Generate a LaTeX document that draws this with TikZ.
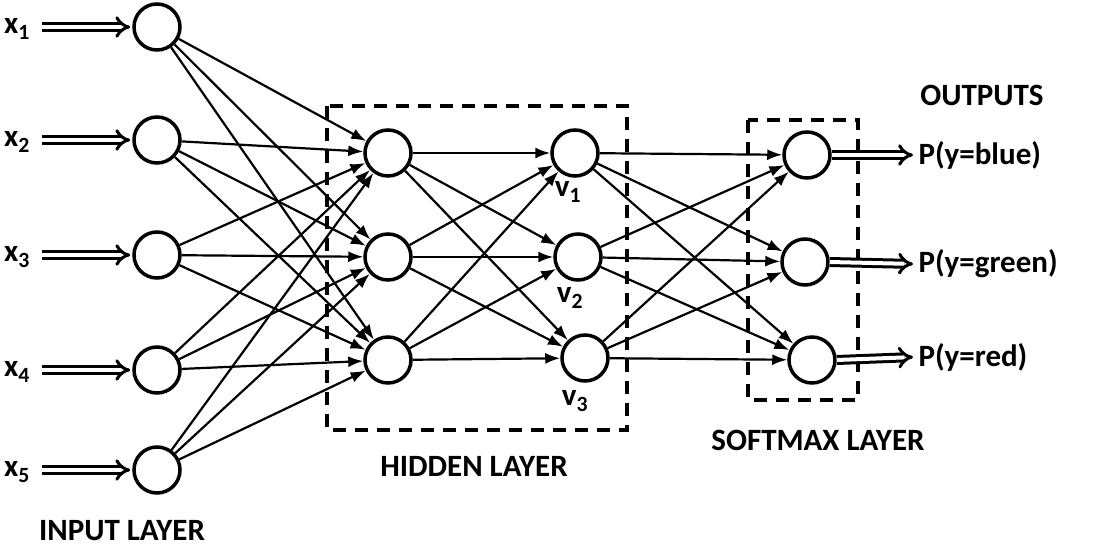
\documentclass[tikz,border=0pt]{standalone}
\usepackage{fontspec}
\setmainfont{Carlito}
\usetikzlibrary{arrows.meta}
\begin{document}
\begin{tikzpicture}[x=1pt,y=-1pt,
  neuron/.style={circle,draw,line width=3.5pt,minimum size=46pt,inner sep=0pt},
  conn/.style={line width=2.2pt,-{Latex[length=15pt,width=11pt]}},
  dbl/.style={double,double distance=4pt,line width=3pt,-{Implies[length=9pt]},shorten >=2pt},
  dbox/.style={draw,line width=3.2pt,dash pattern=on 13pt off 9pt},
  lbl/.style={font=\bfseries\fontsize{31}{33}\selectfont}]
\useasboundingbox (0,0) rectangle (1109,554);
\foreach \i/\y in {1/27,2/140,3/255,4/370,5/470}{
  \node[neuron] (i\i) at (157,\y) {};
  \node[lbl] (xl\i) at (17,\y+2) {x\textsubscript{\i}};
  \coordinate (s\i) at (42,\y);
  \draw[dbl] (s\i) -- (i\i.west);
}
\foreach \i/\y in {1/153,2/257,3/360}{ \node[neuron] (h\i) at (388,\y) {}; }
\node[neuron] (v1) at (575,153) {};
\node[neuron] (v2) at (578,257) {};
\node[neuron] (v3) at (585,358) {};
\node[neuron] (o1) at (807,155) {};
\node[neuron] (o2) at (805,262) {};
\node[neuron] (o3) at (812,360) {};
\foreach \a in {1,...,5}{\foreach \b in {1,2,3}{\draw[conn] (i\a) -- (h\b);}}
\foreach \a in {1,2,3}{\foreach \b in {1,2,3}{\draw[conn] (h\a) -- (v\b); \draw[conn] (v\a) -- (o\b);}}
\node[lbl] (vl1) at (568,192) {v\textsubscript{1}};
\node[lbl] (vl2) at (570,298) {v\textsubscript{2}};
\node[lbl] (vl3) at (575,401) {v\textsubscript{3}};
\coordinate (hb1) at (327,106); \coordinate (hb2) at (627,430);
\draw[dbox] (hb1) rectangle (hb2);
\coordinate (sb1) at (748,120); \coordinate (sb2) at (858,400);
\draw[dbox] (sb1) rectangle (sb2);
\node[lbl,anchor=west] (p1) at (915,155) {P(y=blue)};
\node[lbl,anchor=west] (p2) at (915,264) {P(y=green)};
\node[lbl,anchor=west] (p3) at (915,357) {P(y=red)};
\foreach \k in {1,2,3}{\draw[dbl] (o\k.east) -- (p\k.west);}
\node[lbl] (out) at (982,95) {OUTPUTS};
\node[lbl] (hl) at (474,466) {HIDDEN LAYER};
\node[lbl] (sl) at (818,440) {SOFTMAX LAYER};
\node[lbl] (il) at (122,531) {INPUT LAYER};
\end{tikzpicture}
\end{document}
